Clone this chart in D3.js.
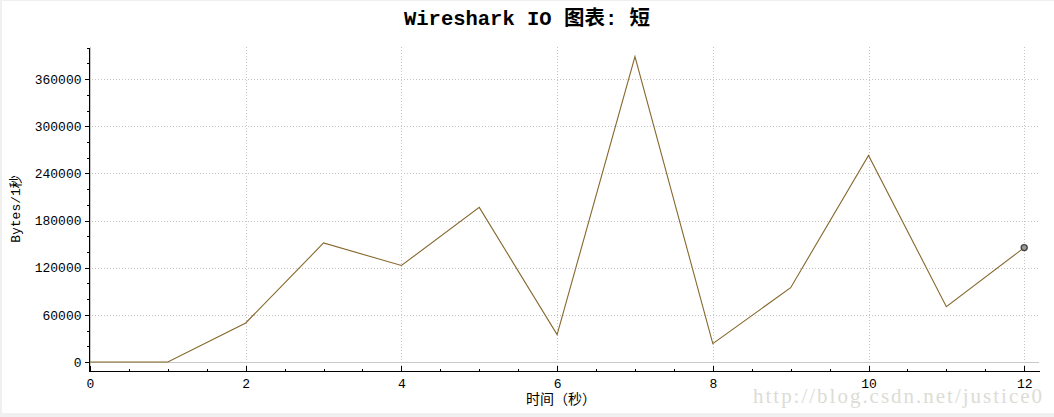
<!DOCTYPE html>
<html>
<head>
<meta charset="utf-8">
<script src="https://cdn.jsdelivr.net/npm/d3@7/dist/d3.min.js"></script>
<style>
  html, body { margin: 0; padding: 0; background: #f0f0f0; }
  svg { display: block; }
</style>
</head>
<body>
<svg id="chart" width="1054" height="417"></svg>
<script>
// Wireshark IO graph, bytes per 1 s interval

const seconds = [0, 1, 2, 3, 4, 5, 6, 7, 8, 9, 10, 11, 12];
const bytes = [0, 0, 49700, 151500, 122800, 196800, 34800, 388800, 23300, 94600, 263000, 70400, 145600];
const yTicks = [0, 60000, 120000, 180000, 240000, 300000, 360000];
const xTicks = [0, 2, 4, 6, 8, 10, 12];

const W = 1054, H = 417;
const AX_LEFT = 88, AX_RIGHT = 1039, AX_TOP = 47, AX_BOTTOM = 371;
const MONO = "'Liberation Mono','Noto Sans CJK SC',monospace";
const LINE = "#86682c";

const svg = d3.select("#chart");

svg.append("rect").attr("x", 2).attr("y", 1).attr("width", W - 2).attr("height", 412).attr("fill", "#fff");

const x = d3.scaleLinear().domain([-0.026, 12.19]).range([AX_LEFT, AX_RIGHT]);
const y = d3.scaleLinear().domain([-11500, 401000]).range([AX_BOTTOM, AX_TOP]);

// dotted grid
const grid = svg.append("g").attr("stroke", "#c4c4c4").attr("stroke-dasharray", "1,2");
grid.selectAll("line.gy").data(yTicks.filter((d) => d !== 0)).enter().append("line")
  .attr("x1", AX_LEFT + 1).attr("x2", AX_RIGHT)
  .attr("y1", (d) => Math.round(y(d)) + 0.5).attr("y2", (d) => Math.round(y(d)) + 0.5);
grid.selectAll("line.gx").data(xTicks.filter((d) => d !== 0)).enter().append("line")
  .attr("y1", AX_TOP).attr("y2", AX_BOTTOM - 1)
  .attr("x1", (d) => Math.round(x(d)) + 0.5).attr("x2", (d) => Math.round(x(d)) + 0.5);

// zero lines
svg.append("line").attr("stroke", "#c8c8c8")
  .attr("x1", AX_LEFT + 1).attr("x2", AX_RIGHT)
  .attr("y1", Math.round(y(0)) + 0.5).attr("y2", Math.round(y(0)) + 0.5);
svg.append("line").attr("stroke", "#c8c8c8")
  .attr("y1", AX_TOP).attr("y2", AX_BOTTOM - 1)
  .attr("x1", Math.round(x(0)) + 0.5).attr("x2", Math.round(x(0)) + 0.5);

// axes
const yAxis = d3.axisLeft(y).tickValues(yTicks).tickSize(4).tickSizeOuter(0).tickPadding(3).tickFormat(d3.format("d"));
const yMinor = d3.axisLeft(y).tickValues(d3.range(0, 400001, 20000).filter((v) => v % 60000)).tickSize(2).tickSizeOuter(0).tickFormat("");
const xAxis = d3.axisBottom(x).tickValues(xTicks).tickSize(-5).tickSizeOuter(0).tickPadding(8).tickFormat(d3.format("d"));
const xMinor = d3.axisBottom(x).tickValues(d3.range(0.5, 12.1, 0.5).filter((v) => v % 2)).tickSize(-2).tickSizeOuter(0).tickFormat("");

const styleAxis = (s) => {
  s.selectAll("path, line").attr("stroke", "#000").attr("shape-rendering", "crispEdges");
  s.selectAll("text").style("font", `13px ${MONO}`).style("fill", "#000");
};
svg.append("g").attr("transform", `translate(${AX_LEFT + 0.5},0)`).call(yMinor).call(styleAxis);
svg.append("g").attr("transform", `translate(${AX_LEFT + 0.5},0)`).call(yAxis).call(styleAxis);
svg.append("g").attr("transform", `translate(0,${AX_BOTTOM - 0.5})`).call(xMinor).call(styleAxis);
svg.append("g").attr("transform", `translate(0,${AX_BOTTOM - 0.5})`).call(xAxis).call(styleAxis);

// series
const pts = seconds.map((s, i) => [s, bytes[i]]);
svg.append("path").datum(pts)
  .attr("fill", "none").attr("stroke", LINE).attr("stroke-width", 1.1)
  .attr("d", d3.line().x((d) => x(d[0])).y((d) => y(d[1])));

const last = pts[pts.length - 1];
svg.append("circle").attr("cx", x(last[0])).attr("cy", y(last[1])).attr("r", 3)
  .attr("fill", "#9a9a9a").attr("stroke", "#444").attr("stroke-width", 1.4);

// texts
svg.append("text").attr("x", 527).attr("y", 25).attr("text-anchor", "middle")
  .style("font", `bold 20.5px ${MONO}`).style("fill", "#000")
  .text("Wireshark IO 图表: 短");

svg.append("text").attr("x", 561).attr("y", 404).attr("text-anchor", "middle")
  .style("font", "14px 'Noto Sans CJK SC',sans-serif").style("fill", "#000")
  .text("时间（秒）");

svg.append("text").attr("transform", "translate(20,209) rotate(-90)").attr("text-anchor", "middle")
  .style("font", `13px ${MONO}`).style("fill", "#000")
  .text("Bytes/1秒");

svg.append("text").attr("x", 753).attr("y", 403)
  .attr("textLength", 289).attr("lengthAdjust", "spacing")
  .style("font", "21px 'Liberation Serif',serif").style("fill", "#dcdcd6")
  .text("http://blog.csdn.net/justice0");
</script>
</body>
</html>
